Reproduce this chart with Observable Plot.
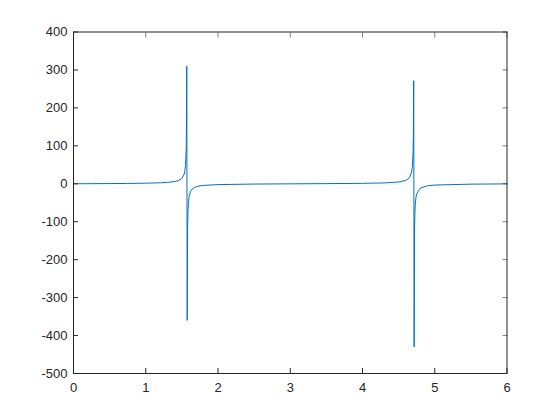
<!DOCTYPE html>
<html>
<head>
<meta charset="utf-8">
<script src="https://cdn.jsdelivr.net/npm/d3@7"></script>
<script src="https://cdn.jsdelivr.net/npm/@observablehq/plot@0.6"></script>
<style>
html,body{margin:0;padding:0;background:#fff;}
</style>
</head>
<body>
<div id="chart"></div>
<script>
const xValues = [0, 0.25, 0.5, 0.75, 1.0, 1.2, 1.3, 1.4, 1.45, 1.5, 1.53, 1.54, 1.55, 1.56, 1.565, 1.5676,
  1.5736, 1.5796, 1.585, 1.59, 1.6, 1.62, 1.65, 1.7, 1.75, 1.8, 2.0, 2.5, 3.0, 3.5, 4.0, 4.3, 4.5, 4.6, 4.65,
  4.68, 4.69, 4.70, 4.705, 4.7087, 4.7147, 4.7207, 4.725, 4.73, 4.74, 4.75, 4.8, 4.9, 5.0, 5.5, 6.0];
const yValues = [0, 0.26, 0.55, 0.93, 1.56, 2.57, 3.6, 5.8, 8.2, 14.1, 24.5, 32.5, 48.1, 92.6, 172.4, 309.8,
  -360, -113.6, -69.8, -52.1, -34.2, -20.3, -12.6, -7.7, -5.5, -4.3, -2.19, -0.75, -0.14, 0.37, 1.16, 2.28, 4.64, 8.86, 16.0,
  30.9, 44.6, 81.0, 135.3, 271.7, -430, -117.5, -79.3, -56.1, -36.1, -26.5, -11.4, -5.27, -3.38, -0.99, -0.29];
const xTicks = [0, 1, 2, 3, 4, 5, 6];
const yTicks = [-500, -400, -300, -200, -100, 0, 100, 200, 300, 400];

const data = xValues.map((x, i) => ({x, y: yValues[i]}));
const axisColor = "#262626";
const fmt = d => String(d);

const chart = Plot.plot({
  width: 560,
  height: 420,
  marginLeft: 73,
  marginRight: 53.5,
  marginTop: 31.5,
  marginBottom: 47,
  style: {fontFamily: "Liberation Sans, Arial, sans-serif", fontSize: "13px", color: axisColor, background: "#fff"},
  x: {domain: [0, 6]},
  y: {domain: [-500, 400]},
  marks: [
    Plot.line(data, {x: "x", y: "y", stroke: "#0072BD", strokeWidth: 1}),
    Plot.frame({stroke: axisColor, strokeWidth: 1}),
    Plot.axisX({anchor: "bottom", ticks: xTicks, tickSize: -5, tickPadding: 14, tickFormat: fmt, label: null, stroke: axisColor, fill: axisColor}),
    Plot.axisX({anchor: "top", ticks: xTicks, tickSize: -5, tickFormat: () => "", label: null, stroke: axisColor, strokeOpacity: 0.6}),
    Plot.axisY({anchor: "left", ticks: yTicks, tickSize: -5, tickPadding: 11, tickFormat: fmt, label: null, stroke: axisColor, fill: axisColor}),
    Plot.axisY({anchor: "right", ticks: yTicks, tickSize: -5, tickFormat: () => "", label: null, stroke: axisColor, strokeOpacity: 0.6})
  ]
});
document.getElementById("chart").appendChild(chart);
</script>
</body>
</html>
